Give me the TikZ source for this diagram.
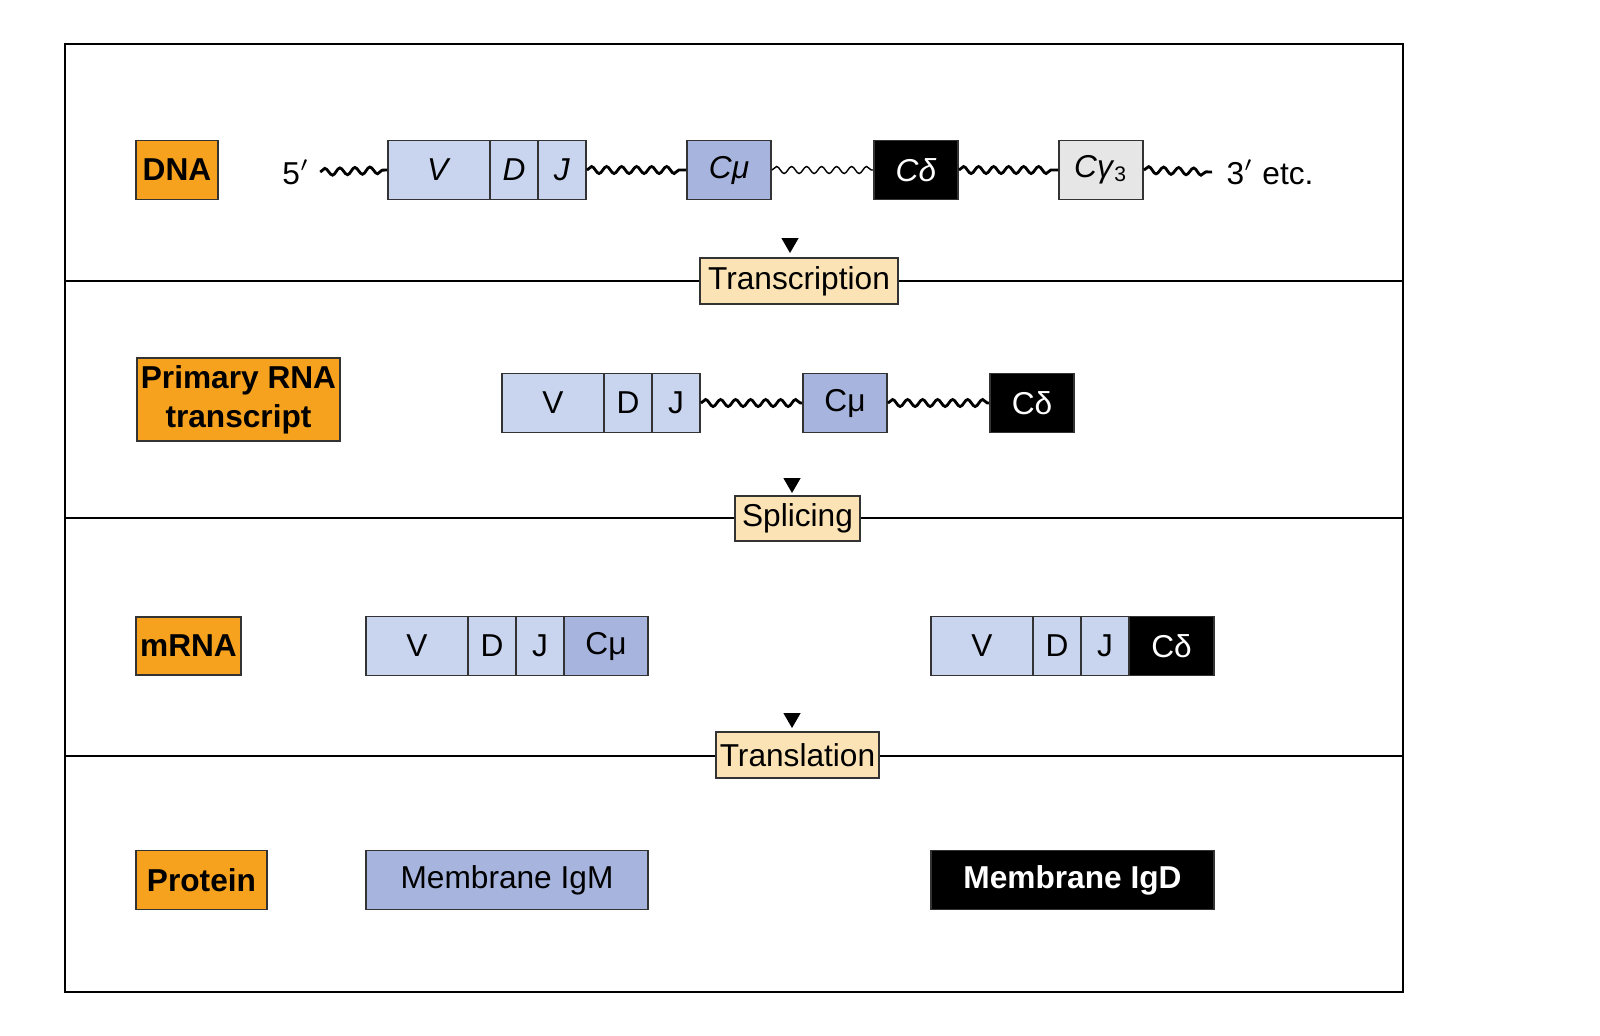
\documentclass[tikz,border=0pt]{standalone}
\usepackage{fontspec}
\setmainfont{Liberation Sans}
\usetikzlibrary{decorations.pathmorphing,shapes.geometric}
\definecolor{labelorange}{RGB}{246,162,30}
\definecolor{lightblue}{RGB}{201,213,239}
\definecolor{midblue}{RGB}{167,181,222}
\definecolor{lightgray}{RGB}{230,230,230}
\definecolor{peach}{RGB}{252,227,181}
\begin{document}
\begin{tikzpicture}
[x=0.01cm,y=-0.01cm,
every node/.style={font=\fontsize{9}{11}\selectfont,inner sep=0pt},
seg/.style={draw=black!80,line width=0.5pt,fill=lightblue,minimum height=0.59cm,minimum width=0.48cm},
rowlabel/.style={draw=black!80,line width=0.5pt,fill=labelorange,font=\fontsize{9}{11}\selectfont\bfseries,align=center},
stepbox/.style={draw=black!80,line width=0.5pt,fill=peach,minimum height=0.46cm},
tri/.style={isosceles triangle,isosceles triangle apex angle=60,shape border rotate=270,fill=black,minimum width=0.16cm,minimum height=0.15cm},
wave/.style={decorate,decoration={snake,segment length=0.15cm,amplitude=0.035cm,post length=0.5pt},line width=0.8pt},
thinwave/.style={wave,line width=0.4pt}]
\useasboundingbox (0,0) rectangle (1600,1035);
% frame and dividers
\draw[line width=0.5pt] (65,44) rectangle (1403,992);
\foreach \y in {281,518,756}
\draw[line width=0.5pt] (65,\y) -- (1403,\y);
% row labels
\node[rowlabel,minimum width=0.82cm,minimum height=0.59cm] (lDNA) at (177,170) {DNA};
\node[rowlabel,minimum width=2.03cm,minimum height=0.83cm] (lRNA) at (238.5,399.5) {Primary RNA\\transcript};
\node[rowlabel,minimum width=1.05cm,minimum height=0.58cm] (lmRNA) at (188.5,646) {mRNA};
\node[rowlabel,minimum width=1.31cm,minimum height=0.59cm] (lProt) at (201.5,880) {Protein};
% DNA
\node[inner xsep=0.1cm] (five) at (296,172) {5$'$};
\node[seg,minimum width=1.02cm] (dV) at (439,170) {\textit{V}};
\node[seg] (dD) at (514,170) {\textit{D}};
\node[seg] (dJ) at (562,170) {\textit{J}};
\node[seg,fill=midblue,minimum width=0.84cm] (dCmu) at (729,170) {\textit{Cμ}};
\node[seg,fill=black,text=white,minimum width=0.84cm] (dCd) at (916,170) {\textit{Cδ}};
\node[seg,fill=lightgray,minimum width=0.84cm] (dCg) at (1101,170) {\textit{Cγ}\textsubscript{3}};
\node[inner xsep=0.14cm] (three) at (1270,172) {3$'$ etc.};
\foreach \from/\to in {five/dV,dJ/dCmu,dCd/dCg,dCg/three}
\draw[wave] (\from.east) -- (\to.west);
\draw[thinwave] (dCmu.east) -- (dCd.west);
% primary RNA transcript
\node[seg,minimum width=1.02cm] (rV) at (553,403) {V};
\node[seg] (rD) at (628,403) {D};
\node[seg] (rJ) at (676,403) {J};
\node[seg,fill=midblue,minimum width=0.84cm] (rCmu) at (845,403) {Cμ};
\node[seg,fill=black,text=white,minimum width=0.84cm] (rCd) at (1032,403) {Cδ};
\foreach \from/\to in {rJ/rCmu,rCmu/rCd}
\draw[wave] (\from.east) -- (\to.west);
% mRNA
\node[seg,minimum width=1.02cm] (mV) at (417,646) {V};
\node[seg] (mD) at (492,646) {D};
\node[seg] (mJ) at (540,646) {J};
\node[seg,fill=midblue,minimum width=0.84cm] (mCmu) at (606,646) {Cμ};
\node[seg,minimum width=1.02cm] (nV) at (982,646) {V};
\node[seg] (nD) at (1057,646) {D};
\node[seg] (nJ) at (1105,646) {J};
\node[seg,fill=black,text=white,minimum width=0.85cm] (nCd) at (1171.5,646) {Cδ};
% protein
\node[seg,fill=midblue,minimum width=2.82cm] (pIgM) at (507,880) {Membrane IgM};
\node[seg,fill=black,text=white,minimum width=2.83cm,font=\fontsize{9}{11}\selectfont\bfseries] (pIgD) at (1072.5,880) {Membrane IgD};
% steps
\node[tri] (t1) at (790,243) {};
\node[stepbox,minimum width=1.98cm] (sTr) at (799,281) {Transcription};
\node[tri] (t2) at (792,483) {};
\node[stepbox,minimum width=1.25cm,minimum height=0.45cm] (sSp) at (797.5,518.5) {Splicing};
\node[tri] (t3) at (792,718) {};
\node[stepbox,minimum width=1.63cm] (sTl) at (797.5,755) {Translation};
\end{tikzpicture}
\end{document}
